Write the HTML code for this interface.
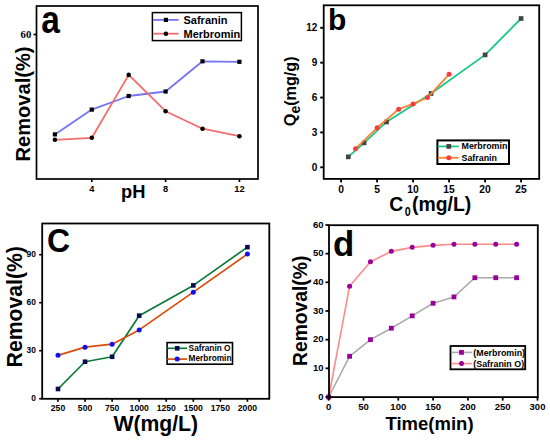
<!DOCTYPE html>
<html><head><meta charset="utf-8"><style>
html,body{margin:0;padding:0;background:#fff;}
body{width:550px;height:441px;overflow:hidden;}
svg{display:block;font-family:"Liberation Sans", sans-serif;}
</style></head><body>
<svg width="550" height="441" viewBox="0 0 550 441">
<rect width="550" height="441" fill="#fff"/>
<polyline points="54.90,134.40 91.80,109.60 128.70,96.00 165.60,91.50 202.50,61.30 239.40,61.80" fill="none" stroke="#7474f4" stroke-width="1.8" stroke-linejoin="round"/>
<rect x="52.80" y="132.30" width="4.2" height="4.2" fill="#000"/>
<rect x="89.70" y="107.50" width="4.2" height="4.2" fill="#000"/>
<rect x="126.60" y="93.90" width="4.2" height="4.2" fill="#000"/>
<rect x="163.50" y="89.40" width="4.2" height="4.2" fill="#000"/>
<rect x="200.40" y="59.20" width="4.2" height="4.2" fill="#000"/>
<rect x="237.30" y="59.70" width="4.2" height="4.2" fill="#000"/>
<polyline points="54.90,139.80 91.80,137.80 128.70,74.90 165.60,111.20 202.50,128.70 239.40,136.20" fill="none" stroke="#f56c6c" stroke-width="1.8" stroke-linejoin="round"/>
<circle cx="54.90" cy="139.80" r="2.3" fill="#000"/>
<circle cx="91.80" cy="137.80" r="2.3" fill="#000"/>
<circle cx="128.70" cy="74.90" r="2.3" fill="#000"/>
<circle cx="165.60" cy="111.20" r="2.3" fill="#000"/>
<circle cx="202.50" cy="128.70" r="2.3" fill="#000"/>
<circle cx="239.40" cy="136.20" r="2.3" fill="#000"/>
<rect x="36.5" y="6" width="221.50" height="173.00" fill="none" stroke="#000" stroke-width="1.7"/>
<line x1="91.8" y1="179" x2="91.8" y2="182" stroke="#000" stroke-width="1.7"/>
<text x="91.80" y="192.2" font-size="9.3" text-anchor="middle" font-weight="bold" >4</text>
<line x1="165.6" y1="179" x2="165.6" y2="182" stroke="#000" stroke-width="1.7"/>
<text x="165.60" y="192.2" font-size="9.3" text-anchor="middle" font-weight="bold" >8</text>
<line x1="239.4" y1="179" x2="239.4" y2="182" stroke="#000" stroke-width="1.7"/>
<text x="239.40" y="192.2" font-size="9.3" text-anchor="middle" font-weight="bold" >12</text>
<line x1="33.5" y1="34.5" x2="36.5" y2="34.5" stroke="#000" stroke-width="1.7"/>
<text x="31.3" y="37.50" font-size="10.7" text-anchor="end" font-weight="bold" font-family="Liberation Serif">60</text>
<text transform="translate(41.2,33.4) scale(0.88,1)" font-size="38" font-weight="bold">a</text>
<text x="121" y="198.4" font-size="18.3" font-weight="bold">pH</text>
<text transform="translate(29.8,161.5) rotate(-90)" font-size="20.1" font-weight="bold">Removal(%)</text>
<rect x="152.4" y="12.6" width="89.00" height="28.00" fill="none" stroke="#000" stroke-width="1.5"/>
<line x1="153.2" y1="19.9" x2="178.6" y2="19.9" stroke="#7474f4" stroke-width="1.8"/>
<rect x="163.80" y="17.80" width="4.2" height="4.2" fill="#000"/>
<text x="183.5" y="23.8" font-size="11" text-anchor="start" font-weight="bold" >Safranin</text>
<line x1="153.2" y1="33.7" x2="178.6" y2="33.7" stroke="#f56c6c" stroke-width="1.8"/>
<circle cx="165.90" cy="33.70" r="2.3" fill="#000"/>
<text x="183.5" y="37.5" font-size="11" text-anchor="start" font-weight="bold" >Merbromin</text>
<polyline points="348.30,156.84 364.14,142.89 386.46,121.96 431.10,93.48 485.10,54.89 521.10,18.50" fill="none" stroke="#18c886" stroke-width="1.8" stroke-linejoin="round"/>
<rect x="345.95" y="154.49" width="4.7" height="4.7" fill="#444"/>
<rect x="361.79" y="140.54" width="4.7" height="4.7" fill="#444"/>
<rect x="384.11" y="119.61" width="4.7" height="4.7" fill="#444"/>
<rect x="428.75" y="91.13" width="4.7" height="4.7" fill="#444"/>
<rect x="482.75" y="52.54" width="4.7" height="4.7" fill="#444"/>
<rect x="518.75" y="16.15" width="4.7" height="4.7" fill="#444"/>
<polyline points="355.50,148.70 377.10,127.78 398.70,109.18 413.10,103.94 427.50,97.55 449.10,74.30" fill="none" stroke="#f88530" stroke-width="1.8" stroke-linejoin="round"/>
<circle cx="355.50" cy="148.70" r="2.5" fill="#f83c3c"/>
<circle cx="377.10" cy="127.78" r="2.5" fill="#f83c3c"/>
<circle cx="398.70" cy="109.18" r="2.5" fill="#f83c3c"/>
<circle cx="413.10" cy="103.94" r="2.5" fill="#f83c3c"/>
<circle cx="427.50" cy="97.55" r="2.5" fill="#f83c3c"/>
<circle cx="449.10" cy="74.30" r="2.5" fill="#f83c3c"/>
<rect x="323.7" y="5.3" width="215.50" height="173.60" fill="none" stroke="#000" stroke-width="1.8"/>
<line x1="341.1" y1="178.9" x2="341.1" y2="182.4" stroke="#000" stroke-width="1.9"/>
<text x="341.10" y="193.3" font-size="10.3" text-anchor="middle" font-weight="bold" >0</text>
<line x1="377.1" y1="178.9" x2="377.1" y2="182.4" stroke="#000" stroke-width="1.9"/>
<text x="377.10" y="193.3" font-size="10.3" text-anchor="middle" font-weight="bold" >5</text>
<line x1="413.1" y1="178.9" x2="413.1" y2="182.4" stroke="#000" stroke-width="1.9"/>
<text x="413.10" y="193.3" font-size="10.3" text-anchor="middle" font-weight="bold" >10</text>
<line x1="449.1" y1="178.9" x2="449.1" y2="182.4" stroke="#000" stroke-width="1.9"/>
<text x="449.10" y="193.3" font-size="10.3" text-anchor="middle" font-weight="bold" >15</text>
<line x1="485.1" y1="178.9" x2="485.1" y2="182.4" stroke="#000" stroke-width="1.9"/>
<text x="485.10" y="193.3" font-size="10.3" text-anchor="middle" font-weight="bold" >20</text>
<line x1="521.1" y1="178.9" x2="521.1" y2="182.4" stroke="#000" stroke-width="1.9"/>
<text x="521.10" y="193.3" font-size="10.3" text-anchor="middle" font-weight="bold" >25</text>
<line x1="320.2" y1="167.3" x2="323.7" y2="167.3" stroke="#000" stroke-width="1.9"/>
<text x="317.4" y="170.90" font-size="10" text-anchor="end" font-weight="bold" >0</text>
<line x1="320.2" y1="132.425" x2="323.7" y2="132.425" stroke="#000" stroke-width="1.9"/>
<text x="317.4" y="136.03" font-size="10" text-anchor="end" font-weight="bold" >3</text>
<line x1="320.2" y1="97.55000000000001" x2="323.7" y2="97.55000000000001" stroke="#000" stroke-width="1.9"/>
<text x="317.4" y="101.15" font-size="10" text-anchor="end" font-weight="bold" >6</text>
<line x1="320.2" y1="62.67500000000001" x2="323.7" y2="62.67500000000001" stroke="#000" stroke-width="1.9"/>
<text x="317.4" y="66.28" font-size="10" text-anchor="end" font-weight="bold" >9</text>
<line x1="320.2" y1="27.80000000000001" x2="323.7" y2="27.80000000000001" stroke="#000" stroke-width="1.9"/>
<text x="317.4" y="31.40" font-size="10" text-anchor="end" font-weight="bold" >12</text>
<text x="328" y="29.5" font-size="30" text-anchor="start" font-weight="bold" >b</text>
<text x="389.3" y="210.9" font-size="19.4" font-weight="bold">C</text><text transform="translate(404.7,215.6) scale(0.85,1)" font-size="12.6" font-weight="bold">0</text><text x="412" y="210.9" font-size="19.4" font-weight="bold">(mg/L)</text>
<text transform="translate(295.6,126.2) rotate(-90)" font-size="16.2" font-weight="bold">Q<tspan font-size="14" dy="4">e</tspan><tspan dy="-4">(mg/g)</tspan></text>
<rect x="437.4" y="140.4" width="71.60" height="23.60" fill="none" stroke="#000" stroke-width="2"/>
<line x1="437.9" y1="146.4" x2="458.6" y2="146.4" stroke="#18c886" stroke-width="1.8"/>
<rect x="446.45" y="144.05" width="4.7" height="4.7" fill="#444"/>
<text x="461.5" y="149.3" font-size="8.9" text-anchor="start" font-weight="bold" >Merbromin</text>
<line x1="437.9" y1="157.8" x2="458.6" y2="157.8" stroke="#f88530" stroke-width="1.8"/>
<circle cx="448.80" cy="157.80" r="2.5" fill="#f83c3c"/>
<text x="461.5" y="161" font-size="8.9" text-anchor="start" font-weight="bold" >Safranin</text>
<polyline points="58.00,389.00 85.06,361.74 112.12,356.78 139.18,315.66 193.30,285.42 247.42,247.18" fill="none" stroke="#0a7a3a" stroke-width="1.7" stroke-linejoin="round"/>
<rect x="55.70" y="386.70" width="4.6" height="4.6" fill="#0a0a50"/>
<rect x="82.76" y="359.44" width="4.6" height="4.6" fill="#0a0a50"/>
<rect x="109.82" y="354.48" width="4.6" height="4.6" fill="#0a0a50"/>
<rect x="136.88" y="313.36" width="4.6" height="4.6" fill="#0a0a50"/>
<rect x="191.00" y="283.12" width="4.6" height="4.6" fill="#0a0a50"/>
<rect x="245.12" y="244.88" width="4.6" height="4.6" fill="#0a0a50"/>
<polyline points="58.00,355.34 85.06,347.18 112.12,344.14 139.18,329.90 193.30,292.14 247.42,254.06" fill="none" stroke="#dd4a0a" stroke-width="1.7" stroke-linejoin="round"/>
<circle cx="58.00" cy="355.34" r="2.5" fill="#1010ee"/>
<circle cx="85.06" cy="347.18" r="2.5" fill="#1010ee"/>
<circle cx="112.12" cy="344.14" r="2.5" fill="#1010ee"/>
<circle cx="139.18" cy="329.90" r="2.5" fill="#1010ee"/>
<circle cx="193.30" cy="292.14" r="2.5" fill="#1010ee"/>
<circle cx="247.42" cy="254.06" r="2.5" fill="#1010ee"/>
<rect x="42.2" y="223.5" width="227.10" height="175.30" fill="none" stroke="#000" stroke-width="1.8"/>
<line x1="58.0" y1="398.8" x2="58.0" y2="401.8" stroke="#000" stroke-width="1.7"/>
<text transform="translate(58.00,410.8) scale(0.95,1)" font-size="9.1" text-anchor="middle" font-weight="bold">250</text>
<line x1="85.06" y1="398.8" x2="85.06" y2="401.8" stroke="#000" stroke-width="1.7"/>
<text transform="translate(85.06,410.8) scale(0.95,1)" font-size="9.1" text-anchor="middle" font-weight="bold">500</text>
<line x1="112.12" y1="398.8" x2="112.12" y2="401.8" stroke="#000" stroke-width="1.7"/>
<text transform="translate(112.12,410.8) scale(0.95,1)" font-size="9.1" text-anchor="middle" font-weight="bold">750</text>
<line x1="139.18" y1="398.8" x2="139.18" y2="401.8" stroke="#000" stroke-width="1.7"/>
<text transform="translate(139.18,410.8) scale(0.95,1)" font-size="9.1" text-anchor="middle" font-weight="bold">1000</text>
<line x1="166.24" y1="398.8" x2="166.24" y2="401.8" stroke="#000" stroke-width="1.7"/>
<text transform="translate(166.24,410.8) scale(0.95,1)" font-size="9.1" text-anchor="middle" font-weight="bold">1250</text>
<line x1="193.29999999999998" y1="398.8" x2="193.29999999999998" y2="401.8" stroke="#000" stroke-width="1.7"/>
<text transform="translate(193.30,410.8) scale(0.95,1)" font-size="9.1" text-anchor="middle" font-weight="bold">1500</text>
<line x1="220.35999999999999" y1="398.8" x2="220.35999999999999" y2="401.8" stroke="#000" stroke-width="1.7"/>
<text transform="translate(220.36,410.8) scale(0.95,1)" font-size="9.1" text-anchor="middle" font-weight="bold">1750</text>
<line x1="247.42" y1="398.8" x2="247.42" y2="401.8" stroke="#000" stroke-width="1.7"/>
<text transform="translate(247.42,410.8) scale(0.95,1)" font-size="9.1" text-anchor="middle" font-weight="bold">2000</text>
<line x1="39.2" y1="398.7" x2="42.2" y2="398.7" stroke="#000" stroke-width="1.7"/>
<text transform="translate(36.0,401.40) scale(0.88,1)" font-size="9.6" text-anchor="end" font-weight="bold">0</text>
<line x1="39.2" y1="350.7" x2="42.2" y2="350.7" stroke="#000" stroke-width="1.7"/>
<text transform="translate(36.0,353.40) scale(0.88,1)" font-size="9.6" text-anchor="end" font-weight="bold">30</text>
<line x1="39.2" y1="302.7" x2="42.2" y2="302.7" stroke="#000" stroke-width="1.7"/>
<text transform="translate(36.0,305.40) scale(0.88,1)" font-size="9.6" text-anchor="end" font-weight="bold">60</text>
<line x1="39.2" y1="254.7" x2="42.2" y2="254.7" stroke="#000" stroke-width="1.7"/>
<text transform="translate(36.0,257.40) scale(0.88,1)" font-size="9.6" text-anchor="end" font-weight="bold">90</text>
<text transform="translate(47.0,251.9) scale(0.94,1)" font-size="34" font-weight="bold">C</text>
<text x="113.4" y="430.8" font-size="21.2" font-weight="bold">W(mg/L)</text>
<text transform="translate(22.1,367.4) rotate(-90)" font-size="21.2" font-weight="bold">Removal(%)</text>
<rect x="167.1" y="342.6" width="65.40" height="21.60" fill="none" stroke="#000" stroke-width="1.6"/>
<line x1="167.4" y1="348.3" x2="187" y2="348.3" stroke="#0a7a3a" stroke-width="1.7"/>
<rect x="174.90" y="346.00" width="4.6" height="4.6" fill="#0a0a50"/>
<text x="188.6" y="350.8" font-size="8.3" text-anchor="start" font-weight="bold" >Safranin O</text>
<line x1="167.4" y1="359.1" x2="187" y2="359.1" stroke="#dd4a0a" stroke-width="1.7"/>
<circle cx="177.20" cy="359.10" r="2.5" fill="#1010ee"/>
<text x="188.6" y="361.4" font-size="8.3" text-anchor="start" font-weight="bold" >Merbromin</text>
<polyline points="328.70,397.00 349.58,356.29 370.46,339.66 391.34,328.19 412.22,315.86 433.10,303.25 453.98,296.94 474.86,277.73 495.74,277.73 516.62,277.73" fill="none" stroke="#aaaaaa" stroke-width="1.6" stroke-linejoin="round"/>
<rect x="326.30" y="394.60" width="4.8" height="4.8" fill="#990099"/>
<rect x="347.18" y="353.89" width="4.8" height="4.8" fill="#990099"/>
<rect x="368.06" y="337.26" width="4.8" height="4.8" fill="#990099"/>
<rect x="388.94" y="325.79" width="4.8" height="4.8" fill="#990099"/>
<rect x="409.82" y="313.46" width="4.8" height="4.8" fill="#990099"/>
<rect x="430.70" y="300.85" width="4.8" height="4.8" fill="#990099"/>
<rect x="451.58" y="294.54" width="4.8" height="4.8" fill="#990099"/>
<rect x="472.46" y="275.33" width="4.8" height="4.8" fill="#990099"/>
<rect x="493.34" y="275.33" width="4.8" height="4.8" fill="#990099"/>
<rect x="514.22" y="275.33" width="4.8" height="4.8" fill="#990099"/>
<polyline points="328.70,397.00 349.58,286.33 370.46,261.68 391.34,251.36 412.22,247.34 433.10,245.34 453.98,244.19 474.86,244.19 495.74,244.19 516.62,244.19" fill="none" stroke="#ff8a8a" stroke-width="1.6" stroke-linejoin="round"/>
<circle cx="328.70" cy="397.00" r="2.5" fill="#990099"/>
<circle cx="349.58" cy="286.33" r="2.5" fill="#990099"/>
<circle cx="370.46" cy="261.68" r="2.5" fill="#990099"/>
<circle cx="391.34" cy="251.36" r="2.5" fill="#990099"/>
<circle cx="412.22" cy="247.34" r="2.5" fill="#990099"/>
<circle cx="433.10" cy="245.34" r="2.5" fill="#990099"/>
<circle cx="453.98" cy="244.19" r="2.5" fill="#990099"/>
<circle cx="474.86" cy="244.19" r="2.5" fill="#990099"/>
<circle cx="495.74" cy="244.19" r="2.5" fill="#990099"/>
<circle cx="516.62" cy="244.19" r="2.5" fill="#990099"/>
<rect x="329.0" y="225.2" width="208.80" height="171.90" fill="none" stroke="#000" stroke-width="1.8"/>
<line x1="328.7" y1="397.1" x2="328.7" y2="400.6" stroke="#000" stroke-width="1.8"/>
<text x="328.70" y="410.4" font-size="9.5" text-anchor="middle" font-weight="bold" >0</text>
<line x1="363.5" y1="397.1" x2="363.5" y2="400.6" stroke="#000" stroke-width="1.8"/>
<text x="363.50" y="410.4" font-size="9.5" text-anchor="middle" font-weight="bold" >50</text>
<line x1="398.29999999999995" y1="397.1" x2="398.29999999999995" y2="400.6" stroke="#000" stroke-width="1.8"/>
<text x="398.30" y="410.4" font-size="9.5" text-anchor="middle" font-weight="bold" >100</text>
<line x1="433.09999999999997" y1="397.1" x2="433.09999999999997" y2="400.6" stroke="#000" stroke-width="1.8"/>
<text x="433.10" y="410.4" font-size="9.5" text-anchor="middle" font-weight="bold" >150</text>
<line x1="467.9" y1="397.1" x2="467.9" y2="400.6" stroke="#000" stroke-width="1.8"/>
<text x="467.90" y="410.4" font-size="9.5" text-anchor="middle" font-weight="bold" >200</text>
<line x1="502.7" y1="397.1" x2="502.7" y2="400.6" stroke="#000" stroke-width="1.8"/>
<text x="502.70" y="410.4" font-size="9.5" text-anchor="middle" font-weight="bold" >250</text>
<line x1="537.5" y1="397.1" x2="537.5" y2="400.6" stroke="#000" stroke-width="1.8"/>
<text x="537.50" y="410.4" font-size="9.5" text-anchor="middle" font-weight="bold" >300</text>
<line x1="325.5" y1="397.0" x2="329.0" y2="397.0" stroke="#000" stroke-width="1.8"/>
<text x="323.5" y="399.60" font-size="9.5" text-anchor="end" font-weight="bold" >0</text>
<line x1="325.5" y1="368.33" x2="329.0" y2="368.33" stroke="#000" stroke-width="1.8"/>
<text x="323.5" y="370.93" font-size="9.5" text-anchor="end" font-weight="bold" >10</text>
<line x1="325.5" y1="339.65999999999997" x2="329.0" y2="339.65999999999997" stroke="#000" stroke-width="1.8"/>
<text x="323.5" y="342.26" font-size="9.5" text-anchor="end" font-weight="bold" >20</text>
<line x1="325.5" y1="310.99" x2="329.0" y2="310.99" stroke="#000" stroke-width="1.8"/>
<text x="323.5" y="313.59" font-size="9.5" text-anchor="end" font-weight="bold" >30</text>
<line x1="325.5" y1="282.32" x2="329.0" y2="282.32" stroke="#000" stroke-width="1.8"/>
<text x="323.5" y="284.92" font-size="9.5" text-anchor="end" font-weight="bold" >40</text>
<line x1="325.5" y1="253.65" x2="329.0" y2="253.65" stroke="#000" stroke-width="1.8"/>
<text x="323.5" y="256.25" font-size="9.5" text-anchor="end" font-weight="bold" >50</text>
<line x1="325.5" y1="224.98" x2="329.0" y2="224.98" stroke="#000" stroke-width="1.8"/>
<text x="323.5" y="227.58" font-size="9.5" text-anchor="end" font-weight="bold" >60</text>
<text x="332.9" y="256.2" font-size="34.8" text-anchor="start" font-weight="bold" >d</text>
<text x="385.5" y="429.5" font-size="18.5" font-weight="bold">Time(min)</text>
<text transform="translate(307.2,366) rotate(-90)" font-size="19.3" font-weight="bold">Removal(%)</text>
<rect x="450.5" y="346" width="74.70" height="23.30" fill="none" stroke="#000" stroke-width="1.8"/>
<line x1="451.3" y1="352.4" x2="471.8" y2="352.4" stroke="#aaaaaa" stroke-width="1.6"/>
<rect x="459.10" y="350.00" width="4.8" height="4.8" fill="#990099"/>
<text x="473.3" y="355.7" font-size="8.9" text-anchor="start" font-weight="bold" >(Merbromin)</text>
<line x1="451.3" y1="363.6" x2="471.8" y2="363.6" stroke="#ff8a8a" stroke-width="1.6"/>
<circle cx="461.50" cy="363.60" r="2.5" fill="#990099"/>
<text x="473.3" y="366.6" font-size="8.9" text-anchor="start" font-weight="bold" >(Safranin O)</text>
</svg>
</body></html>
